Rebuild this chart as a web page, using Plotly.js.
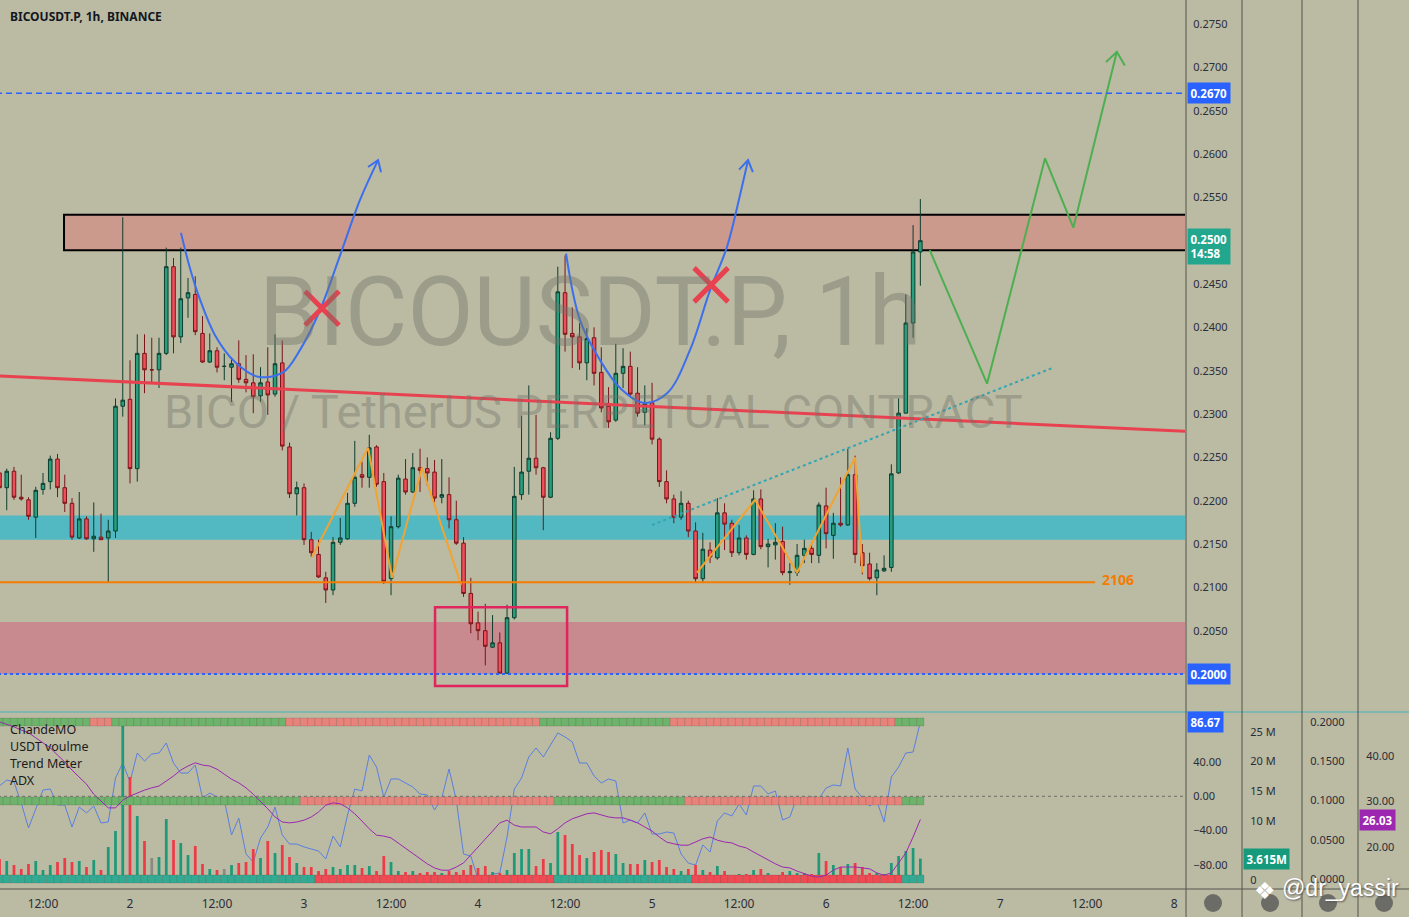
<!DOCTYPE html>
<html><head><meta charset="utf-8">
<script src="https://cdn.plot.ly/plotly-3.0.1.min.js"></script>
<style>html,body{margin:0;padding:0;background:#bbbaa3;} #chart{width:1409px;height:917px;}</style>
</head><body><div id="chart"></div>
<script>
// ---------- DATA (hourly candles, day 1 06:00 -> day 6 13:00) ----------
const open = [
0.2232,0.2215,0.2234,0.2204,0.2201,0.2181,0.2213,0.2222,0.2248,0.2215,
0.2197,0.2157,0.2179,0.2156,0.2158,0.2157,0.2165,0.2309,0.2317,0.2237,
0.2370,0.2351,0.2351,0.2370,0.2470,0.2389,0.2434,0.2438,0.2393,0.2360,
0.2373,0.2355,0.2354,0.2358,0.2340,0.2336,0.2321,0.2337,0.2323,0.2359,
0.2262,0.2208,0.2215,0.2155,0.2138,0.2111,0.2097,0.2152,0.2156,0.2197,
0.2230,0.2227,0.2262,0.2222,0.2110,0.2170,0.2225,0.2210,0.2238,0.2237,
0.2233,0.2204,0.2207,0.2178,0.2151,0.2093,0.2059,0.2050,0.2031,0.2036,
0.2001,0.2065,0.2207,0.2234,0.2249,0.2238,0.2204,0.2272,0.2440,0.2393,
0.2389,0.2359,0.2388,0.2348,0.2309,0.2293,0.2347,0.2355,0.2324,0.2302,
0.2313,0.2271,0.2222,0.2202,0.2181,0.2197,0.2165,0.2110,0.2143,0.2134,
0.2186,0.2174,0.2140,0.2157,0.2138,0.2202,0.2147,0.2149,0.2153,0.2117,
0.2117,0.2137,0.2145,0.2137,0.2194,0.2160,0.2174,0.2172,0.2230,0.2140,
0.2127,0.2111,0.2119,0.2123,0.2232,0.2301,0.2405,0.2487];
const high = [
0.2258,0.2237,0.2239,0.2230,0.2204,0.2216,0.2232,0.2252,0.2254,0.2230,
0.2203,0.2210,0.2182,0.2198,0.2185,0.2178,0.2318,0.2527,0.2362,0.2392,
0.2392,0.2388,0.2388,0.2492,0.2480,0.2492,0.2457,0.2459,0.2413,0.2393,
0.2377,0.2370,0.2365,0.2385,0.2368,0.2369,0.2354,0.2377,0.2392,0.2385,
0.2267,0.2222,0.2220,0.2164,0.2155,0.2118,0.2158,0.2180,0.2209,0.2269,
0.2245,0.2276,0.2264,0.2232,0.2182,0.2230,0.2248,0.2255,0.2260,0.2250,
0.2247,0.2248,0.2227,0.2200,0.2158,0.2111,0.2072,0.2081,0.2068,0.2048,
0.2080,0.2239,0.2298,0.2333,0.2299,0.2239,0.2279,0.2470,0.2483,0.2423,
0.2405,0.2399,0.2400,0.2377,0.2331,0.2381,0.2376,0.2372,0.2354,0.2333,
0.2336,0.2273,0.2235,0.2207,0.2211,0.2200,0.2175,0.2163,0.2152,0.2203,
0.2197,0.2178,0.2172,0.2160,0.2212,0.2213,0.2156,0.2174,0.2170,0.2128,
0.2150,0.2155,0.2152,0.2198,0.2215,0.2186,0.2227,0.2260,0.2252,0.2150,
0.2140,0.2128,0.2137,0.2242,0.2318,0.2438,0.2518,0.2548];
const low = [
0.2212,0.2189,0.2201,0.2200,0.2178,0.2157,0.2207,0.2213,0.2204,0.2187,
0.2155,0.2156,0.2155,0.2141,0.2155,0.2105,0.2157,0.2297,0.2220,0.2222,
0.2324,0.2335,0.2330,0.2368,0.2370,0.2382,0.2411,0.2391,0.2359,0.2359,
0.2348,0.2339,0.2314,0.2336,0.2325,0.2301,0.2314,0.2299,0.2320,0.2258,
0.2203,0.2183,0.2149,0.2135,0.2111,0.2082,0.2091,0.2149,0.2155,0.2193,
0.2215,0.2215,0.2216,0.2104,0.2091,0.2168,0.2207,0.2209,0.2210,0.2217,
0.2198,0.2197,0.2168,0.2149,0.2089,0.2047,0.2039,0.2010,0.2030,0.2001,
0.2000,0.2063,0.2201,0.2207,0.2230,0.2166,0.2203,0.2270,0.2372,0.2353,
0.2351,0.2339,0.2333,0.2302,0.2284,0.2291,0.2330,0.2320,0.2297,0.2287,
0.2265,0.2216,0.2197,0.2174,0.2178,0.2158,0.2105,0.2105,0.2128,0.2132,
0.2143,0.2135,0.2137,0.2132,0.2137,0.2144,0.2123,0.2132,0.2114,0.2103,
0.2113,0.2128,0.2128,0.2128,0.2145,0.2133,0.2170,0.2171,0.2128,0.2115,
0.2108,0.2091,0.2118,0.2118,0.2231,0.2301,0.2388,0.2448];
const close = [
0.2215,0.2234,0.2204,0.2202,0.2182,0.2212,0.2220,0.2248,0.2215,0.2197,
0.2158,0.2179,0.2156,0.2159,0.2155,0.2165,0.2309,0.2316,0.2237,0.2370,
0.2351,0.2351,0.2370,0.2470,0.2389,0.2433,0.2440,0.2395,0.2360,0.2373,
0.2354,0.2355,0.2358,0.2340,0.2336,0.2320,0.2336,0.2322,0.2358,0.2263,
0.2208,0.2215,0.2155,0.2140,0.2112,0.2097,0.2152,0.2157,0.2197,0.2227,
0.2227,0.2261,0.2219,0.2107,0.2170,0.2226,0.2210,0.2238,0.2235,0.2232,
0.2203,0.2207,0.2178,0.2151,0.2093,0.2058,0.2050,0.2032,0.2036,0.2001,
0.2065,0.2205,0.2233,0.2249,0.2238,0.2204,0.2272,0.2441,0.2392,0.2389,
0.2359,0.2387,0.2347,0.2307,0.2291,0.2347,0.2355,0.2323,0.2301,0.2312,
0.2271,0.2222,0.2202,0.2181,0.2197,0.2165,0.2110,0.2144,0.2135,0.2186,
0.2173,0.2140,0.2157,0.2138,0.2202,0.2147,0.2150,0.2152,0.2117,0.2118,
0.2137,0.2145,0.2138,0.2195,0.2162,0.2174,0.2172,0.2230,0.2138,0.2125,
0.2110,0.2120,0.2122,0.2231,0.2301,0.2405,0.2487,0.2500];
// USDT volume, millions
const volumeM = [
3.55,3.21,2.53,1.86,2.70,3.21,1.69,2.53,3.04,3.72,
3.04,3.21,2.20,3.38,1.69,5.57,8.28,26.69,17.40,10.81,
6.59,3.72,3.89,10.30,6.76,6.25,4.22,5.74,2.70,1.86,
1.69,1.86,2.53,2.87,3.04,5.24,3.72,6.59,4.56,5.91,
3.89,2.87,2.20,2.20,1.52,1.86,2.20,1.86,2.53,2.53,
2.03,2.36,1.52,4.05,3.04,1.52,1.35,1.52,1.18,1.35,
1.35,1.18,1.52,1.35,1.69,2.53,2.03,2.36,1.35,1.18,
1.69,4.56,5.24,5.24,2.36,3.55,2.87,8.11,7.60,6.08,
4.22,3.72,4.73,5.07,4.73,4.39,2.87,2.70,2.70,3.38,
3.04,3.38,2.20,1.86,1.52,1.86,2.53,1.69,1.35,2.36,
1.52,0.68,1.01,1.01,1.69,1.86,1.18,0.84,1.35,1.52,
1.18,1.18,1.01,4.56,3.21,2.53,2.20,2.70,2.87,2.20,
1.18,1.18,1.01,2.87,4.05,4.90,5.41,3.615];
const chandeMO = [
12.0,19.0,16.7,-7.8,-36.9,-13.6,7.3,8.5,-10.1,-10.1,
-35.8,-12.5,-19.4,-11.3,-31.1,-29.9,21.3,38.8,16.7,50.4,
41.1,49.3,50.4,62.1,38.8,27.1,27.1,36.4,-2.0,3.8,
-0.8,-4.3,-45.1,-25.3,-67.2,-76.6,-48.6,-35.8,-12.5,-45.1,
-55.6,-55.6,-59.0,-61.4,-63.7,-73.0,-46.3,-59.0,-21.8,8.5,
6.2,48.1,34.1,-0.8,20.2,20.2,15.5,10.8,2.7,1.5,
-16.0,-2.0,31.8,-4.3,-67.2,-69.6,-96.4,-96.4,-90.5,-89.4,
-47.4,8.5,21.3,45.8,56.3,45.8,59.8,73.8,69.1,63.3,
38.8,38.8,23.7,15.5,20.2,17.8,-31.1,-27.6,-31.1,-19.4,
-43.9,-43.9,-41.6,-42.8,-67.2,-77.8,-80.1,-56.7,-64.9,-28.8,
-19.4,-22.9,-8.9,-21.8,12.0,12.0,2.7,6.2,-27.6,-24.1,
-0.8,-4.3,-0.8,-3.1,9.7,13.2,12.0,56.3,8.5,-2.0,
-11.3,-5.5,-29.9,22.5,34.1,50.4,51.6,86.67];
const adx = [
47.5,47.0,46.4,45.7,45.1,44.0,42.9,41.8,40.2,38.7,
36.9,35.4,33.8,31.6,30.1,28.6,28.6,30.3,31.2,31.9,
32.5,33.0,33.4,34.5,35.6,36.9,37.8,38.5,38.0,37.8,
37.1,36.0,34.9,34.1,33.0,31.6,30.1,28.4,26.6,25.5,
25.3,25.5,25.9,26.6,27.7,29.2,29.7,29.5,28.6,27.3,
25.7,24.0,22.6,22.4,22.0,20.9,19.6,18.5,17.4,16.3,
15.4,14.9,14.9,15.6,16.5,18.2,20.0,21.8,23.5,25.3,
25.9,24.8,24.4,24.4,24.4,23.3,22.9,24.0,25.3,26.2,
26.8,27.3,27.5,27.0,26.6,26.4,26.4,25.9,25.3,24.4,
23.5,22.2,21.1,20.7,20.4,20.4,21.1,21.8,22.2,21.5,
21.1,20.9,20.2,19.8,18.9,18.0,17.1,16.3,15.6,15.4,
14.7,14.1,13.6,13.4,13.8,14.9,15.6,15.6,15.6,15.4,
15.2,14.3,13.8,14.3,16.5,18.7,22.2,26.03];
// Trend meter rows: [state, number of candles]
const trendRow1 = [['g',13],['r',3],['g',24],['r',35],['g',18],['r',31],['g',4]];
const trendRow2 = [['g',42],['r',35],['g',18],['r',30],['g',3]];
const trendRow3 = [['g',44],['r',33],['g',19],['r',29],['g',3]];
// Time axis
const firstHour = 6;               // day 1, 06:00
const tickHours = [12,24,36,48,60,72,84,96,108,120,132,144,156,168];
const tickLabels = ['12:00','2','12:00','3','12:00','4','12:00','5','12:00','6','12:00','7','12:00','8'];
const priceTicks = [0.2050,0.2100,0.2150,0.2200,0.2250,0.2300,0.2350,0.2400,0.2450,0.2550,0.2600,0.2650,0.2700,0.2750];
const chandeTicks = [-80,-40,0,40];
const volTicks = [0,10,15,20,25];
const volTickText = ['0','10 M','15 M','20 M','25 M'];
const trendTicks = [0,0.05,0.1,0.15,0.2];
const adxTicks = [20,30,40];
// Drawings (hour, price)
const blueCurve1 = {t:[31.03,32.28,33.66,35.72,38.48,41.66,45.10,47.45,50.21,52.97,55.72,58.21],
                    p:[0.2509,0.2468,0.2432,0.2391,0.2360,0.2343,0.2348,0.2374,0.2420,0.2483,0.2547,0.2593]};
const blueArrow1 = {t:[56.83,58.21,58.62], p:[0.2585,0.2593,0.2579]};
const blueCurve2 = {t:[84.14,86.07,88.83,91.59,94.76,98.07,101.24,104.0,106.34,108.14,109.24],
                    p:[0.2485,0.2408,0.2362,0.2330,0.2313,0.2324,0.2374,0.2443,0.2493,0.2553,0.2593]};
const blueArrow2 = {t:[108.0,109.24,109.9], p:[0.2582,0.2593,0.2579]};
const crossMarks = {t:[50.48,104.14], p:[0.2422,0.2449]};
const zigzag1 = {t:[49.1,56.83,60.14,64.28,69.66], p:[0.2135,0.2261,0.2111,0.2238,0.2103]};
const zigzag2 = {t:[102.2,110.2,116.0,124.0,125.0], p:[0.2117,0.2201,0.2117,0.2250,0.2117]};
const greenPath = {t:[134.3,142.2,150.2,154.1,160.1], p:[0.2489,0.2335,0.2595,0.2515,0.2718]};
const greenArrow = {t:[158.6,160.1,161.2], p:[0.2706,0.2718,0.2702]};
const resistanceZone = {t0:14.9, p0:0.2489, p1:0.2530};
const supportZoneCyan = {p0:0.2155, p1:0.2183};
const demandZone = {p0:0.2000, p1:0.2060};
const demandBox = {t0:66.07, t1:84.28, p0:0.19862, p1:0.2077};
const levelTarget = 0.2670, levelBottom = 0.2000, level2106 = {p:0.2106, t1:157.1};
const redTrend = {t:[6.07,169.5], p:[0.2344,0.2280]};
const cyanTrend = {t:[96.0,151.17], p:[0.2172,0.2353]};
const lastPrice = 0.2500, lastChande = 86.67, lastVolM = 3.615, lastAdx = 26.03;

// ---------- BUILD ----------
const hours = close.map((_, i) => firstHour + i);
const W = 1409, H = 917, MB = 28, PH = H - MB;
const px = x => x / W, py = y => (PH - y) / PH;
const FONT = 'Noto Sans, Open Sans, sans-serif';
const BG = '#bbbaa3';

const volColors = close.map((c, i) => c > open[i] ? '#1f9a78' : (c < open[i] ? '#ee3b48' : '#8a8a84'));
function expandRuns(runs, g, r) { const out = []; runs.forEach(([s, n]) => { for (let k = 0; k < n; k++) out.push(s === 'g' ? g : r); }); return out; }

const traces = [];
traces.push({type:'candlestick', x:hours, open:open, high:high, low:low, close:close, xaxis:'x', yaxis:'y',
  increasing:{line:{color:'#0e3d2e', width:1}, fillcolor:'#28a07f'},
  decreasing:{line:{color:'#7a1418', width:1}, fillcolor:'#ee4f5b'},
  whiskerwidth:0, hoverinfo:'skip', showlegend:false});
const lineTr = (d, color, w, extra) => Object.assign({type:'scatter', mode:'lines', x:d.t, y:d.p, xaxis:'x', yaxis:'y',
  line:{color:color, width:w}, hoverinfo:'skip', showlegend:false}, extra || {});
traces.push(lineTr(zigzag1, '#f3a331', 2));
traces.push(lineTr(zigzag2, '#f3a331', 2));
traces.push(lineTr(blueCurve1, '#3b6fee', 2, {line:{color:'#3b6fee', width:2, shape:'spline'}}));
traces.push(lineTr(blueArrow1, '#3b6fee', 2));
traces.push(lineTr(blueCurve2, '#3b6fee', 2, {line:{color:'#3b6fee', width:2, shape:'spline'}}));
traces.push(lineTr(blueArrow2, '#3b6fee', 2));
traces.push(lineTr(greenPath, '#4caf50', 2));
traces.push(lineTr(greenArrow, '#4caf50', 2));
traces.push({type:'scatter', mode:'markers', x:crossMarks.t, y:crossMarks.p, xaxis:'x', yaxis:'y',
  marker:{symbol:'x-thin-open', size:34, color:'#e8414f', line:{color:'#e8414f', width:5}}, hoverinfo:'skip', showlegend:false});

traces.push({type:'scatter', mode:'lines', x:hours, y:chandeMO, xaxis:'x', yaxis:'y2',
  line:{color:'#5a7fe0', width:1}, hoverinfo:'skip', showlegend:false});
traces.push({type:'bar', x:hours, y:volumeM, xaxis:'x', yaxis:'y3', width:0.38,
  marker:{color:volColors, line:{width:0}}, hoverinfo:'skip', showlegend:false});
const rowH = 0.0102;
[[trendRow1, 0.1949, '#6db36c', '#e8837b'], [trendRow2, 0.0943, '#6db36c', '#e8837b'], [trendRow3, -0.0051, '#33ab94', '#f04a54']].forEach(([runs, base, g, r]) => {
  traces.push({type:'bar', x:hours, y:hours.map(() => rowH), base:base, xaxis:'x', yaxis:'y4', width:1,
    marker:{color:expandRuns(runs, g, r), line:{width:0.6, color:'rgba(60,60,50,0.25)'}}, hoverinfo:'skip', showlegend:false});
});
traces.push({type:'scatter', mode:'lines', x:hours, y:adx, xaxis:'x', yaxis:'y5',
  line:{color:'#9c27b0', width:1}, hoverinfo:'skip', showlegend:false});

const tickFont = {family:FONT, size:11, color:'#2a2e39'};
const yCommon = {showgrid:false, zeroline:false, showline:false, ticks:'outside', ticklen:5, tickcolor:'rgba(0,0,0,0)',
  tickfont:tickFont, automargin:false, fixedrange:true, side:'right'};

const shapes = [];
const dataShape = o => Object.assign({xref:'x', yref:'y'}, o);
shapes.push(dataShape({type:'rect', x0:0, x1:175, y0:demandZone.p0, y1:demandZone.p1, fillcolor:'#c98a8f', line:{width:0}, layer:'below'}));
shapes.push(dataShape({type:'rect', x0:0, x1:175, y0:supportZoneCyan.p0, y1:supportZoneCyan.p1, fillcolor:'#52b8c2', line:{width:0}, layer:'below'}));
shapes.push(dataShape({type:'rect', x0:resistanceZone.t0, x1:175, y0:resistanceZone.p0, y1:resistanceZone.p1, fillcolor:'#cc9a8c', line:{color:'#000', width:2}, layer:'below'}));
shapes.push(dataShape({type:'line', x0:0, x1:175, y0:levelTarget, y1:levelTarget, line:{color:'#2962ff', width:1.5, dash:'6px,4px'}}));
shapes.push(dataShape({type:'line', x0:0, x1:175, y0:levelBottom, y1:levelBottom, line:{color:'#2962ff', width:2, dash:'dot'}}));
shapes.push(dataShape({type:'line', x0:0, x1:level2106.t1, y0:level2106.p, y1:level2106.p, line:{color:'#f57c00', width:2}}));
shapes.push(dataShape({type:'line', x0:redTrend.t[0], x1:redTrend.t[1], y0:redTrend.p[0], y1:redTrend.p[1], line:{color:'#e8414f', width:3}}));
shapes.push(dataShape({type:'line', x0:cyanTrend.t[0], x1:cyanTrend.t[1], y0:cyanTrend.p[0], y1:cyanTrend.p[1], line:{color:'#34a6b3', width:2, dash:'dot'}}));
shapes.push(dataShape({type:'rect', x0:demandBox.t0, x1:demandBox.t1, y0:demandBox.p0, y1:demandBox.p1, line:{color:'#e0245e', width:2.5}}));
shapes.push({type:'line', xref:'x', yref:'y2', x0:0, x1:175, y0:0, y1:0, line:{color:'#6e6e66', width:1, dash:'dot'}});
shapes.push({type:'line', xref:'paper', yref:'paper', x0:0, x1:1, y0:py(712), y1:py(712), line:{color:'#45b3bd', width:1}});
shapes.push({type:'line', xref:'paper', yref:'paper', x0:0, x1:1, y0:py(889), y1:py(889), line:{color:'#55554e', width:1}});
[1186, 1242, 1302, 1358].forEach(x => shapes.push({type:'line', xref:'paper', yref:'paper', x0:px(x), x1:px(x), y0:py(917), y1:py(0), line:{color:'#55554e', width:1}}));
[1213, 1270, 1328, 1384].forEach(x => shapes.push({type:'circle', xref:'paper', yref:'paper', xsizemode:'pixel', ysizemode:'pixel',
  xanchor:px(x), yanchor:py(903), x0:-9, x1:9, y0:-9, y1:9, fillcolor:'#6c6c66', line:{width:0}}));

const ann = [];
const txt = (x, y, text, size, color, extra) => Object.assign({xref:'paper', yref:'paper', x:px(x), y:py(y), text:text, showarrow:false,
  xanchor:'left', yanchor:'middle', font:{family:FONT, size:size, color:color}}, extra || {});
ann.push(txt(8, 16, '<b>BICOUSDT.P, 1h, BINANCE</b>', 12, '#131722'));
ann.push(txt(590, 312, 'BICOUSDT.P, 1h', 96, 'rgba(115,115,104,0.42)', {xanchor:'center', font:{family:'Roboto, Noto Sans, sans-serif', size:96, color:'rgba(115,115,104,0.42)'}}));
ann.push(txt(593, 411, 'BICO / TetherUS PERPETUAL CONTRACT', 47, 'rgba(115,115,104,0.42)', {xanchor:'center', font:{family:'Roboto, Noto Sans, sans-serif', size:47, color:'rgba(115,115,104,0.42)'}}));
['ChandeMO', 'USDT voulme', 'Trend Meter', 'ADX'].forEach((s, i) => ann.push(txt(8, 729 + 17 * i, s, 12.5, '#1c1c1c')));
ann.push({xref:'x', yref:'y', x:157.8, y:level2106.p + 0.00035, text:'<b>2106</b>', showarrow:false, xanchor:'left', yanchor:'middle',
  font:{family:FONT, size:14, color:'#f57c00'}});
const priceTag = (xPix, yref, y, text, bg) => ({xref:'paper', yref:yref, x:px(xPix), y:y, text:'<b>' + text + '</b>', showarrow:false,
  xanchor:'left', yanchor:'middle', align:'left', bgcolor:bg, borderpad:2.5, font:{family:FONT, size:11.5, color:'#ffffff'}});
ann.push(priceTag(1187, 'y', levelTarget, levelTarget.toFixed(4), '#2962ff'));
ann.push(priceTag(1187, 'y', levelBottom, levelBottom.toFixed(4), '#2962ff'));
ann.push(priceTag(1187, 'y', 0.24935, lastPrice.toFixed(4) + '<br>14:58', '#22a68e'));
ann.push(priceTag(1187, 'y2', lastChande, lastChande.toFixed(2), '#2962ff'));
ann.push(priceTag(1243, 'y3', lastVolM, lastVolM.toFixed(3) + 'M', '#159a7c'));
ann.push(priceTag(1359, 'y5', lastAdx, lastAdx.toFixed(2), '#9c27b0'));
ann.push(txt(1252, 889, '❖', 24, '#ffffff'));
ann.push(txt(1280, 888, '@dr_yassir', 23, '#ffffff', {font:{family:'Liberation Sans, Arial, sans-serif', size:23, color:'#ffffff', shadow:'1px 1px 2px #555'}}));

const layout = {
  width:W, height:H, margin:{l:0, r:0, t:0, b:MB, pad:0},
  paper_bgcolor:BG, plot_bgcolor:BG, showlegend:false, barmode:'overlay', dragmode:false,
  boxgap:0.3,
  xaxis:{domain:[0, px(1185)], range:[6.07, 169.5], anchor:'y2', showgrid:false, zeroline:false, showline:false,
    tickvals:tickHours, ticktext:tickLabels, ticks:'outside', ticklen:4, tickcolor:'rgba(0,0,0,0)',
    tickfont:{family:FONT, size:12, color:'#2a2e39'}, rangeslider:{visible:false}, automargin:false, fixedrange:true},
  yaxis:Object.assign({}, yCommon, {domain:[py(712), 1], range:[0.19562, 0.27777], anchor:'x', tickvals:priceTicks, tickformat:'.4f'}),
  yaxis2:Object.assign({}, yCommon, {domain:[0, py(713)], range:[-108.0, 97.05], anchor:'x', tickvals:chandeTicks, tickformat:'.2f'}),
  yaxis3:Object.assign({}, yCommon, {overlaying:'y2', anchor:'free', position:px(1242), range:[-1.52, 28.21],
    tickvals:volTicks, ticktext:volTickText}),
  yaxis4:Object.assign({}, yCommon, {overlaying:'y2', anchor:'free', position:px(1302), range:[-0.01274, 0.2115],
    tickvals:trendTicks, tickformat:'.4f'}),
  yaxis5:Object.assign({}, yCommon, {overlaying:'y2', anchor:'free', position:px(1358), range:[10.77, 49.45],
    tickvals:adxTicks, tickformat:'.2f'}),
  shapes:shapes, annotations:ann
};
Plotly.newPlot('chart', traces, layout, {displayModeBar:false, staticPlot:true});
</script></body></html>
